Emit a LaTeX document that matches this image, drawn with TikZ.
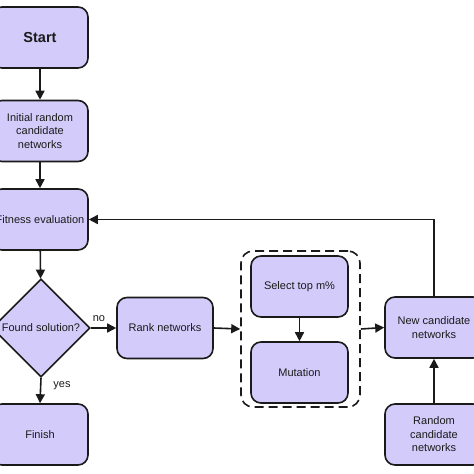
\documentclass[tikz,border=0pt]{standalone}
\usepackage{fontspec}
\setmainfont{Liberation Sans}
\usetikzlibrary{shapes.geometric,arrows.meta}
\definecolor{boxfill}{HTML}{D3CCFA}
\definecolor{ink}{HTML}{1A1A1A}
\tikzset{
  stepbox/.style={draw=ink, line width=1.6pt, fill=boxfill, rounded corners=10pt,
    minimum width=96pt, minimum height=61pt, inner sep=2pt, align=center,
    font=\fontsize{11}{13.5}\selectfont, text=ink},
  arr/.style={draw=ink, line width=1.6pt, -{Triangle[length=9pt,width=9pt]}},
  lbl/.style={font=\fontsize{11}{12}\selectfont, text=ink, inner sep=0pt}
}
\begin{document}
\begin{tikzpicture}[x=1pt,y=-1pt]
\useasboundingbox (0,0) rectangle (474,474);
\node[stepbox, font=\fontsize{14.5}{16}\selectfont\bfseries] (start) at (40,37.5) {Start};
\node[stepbox] (init) at (40,131) {Initial random\\candidate\\networks};
\node[stepbox] (fit) at (40,219.5) {Fitness evaluation};
\node[diamond, draw=ink, line width=1.6pt, fill=boxfill, minimum width=98pt, minimum height=98pt, inner sep=0pt] (dec) at (41,328) {};
\node[lbl] (dectext) at (dec.center) {Found solution?};
\node[stepbox] (fin) at (40,434.5) {Finish};
\node[stepbox] (rank) at (165,328) {Rank networks};
\node[draw=ink, line width=1.6pt, dash pattern=on 9pt off 5pt, rounded corners=12pt,
  minimum width=119pt, minimum height=156pt] (grp) at (300.5,329) {};
\node[stepbox, minimum width=97pt] (sel) at (299.5,286.5) {Select top m\%};
\node[stepbox, minimum width=97pt] (mut) at (299.5,372.5) {Mutation};
\node[stepbox, minimum width=98pt] (new) at (434,327.5) {New candidate\\networks};
\node[stepbox, minimum width=98pt] (rnd) at (434,434.5) {Random\\candidate\\networks};

\draw[arr] (start) -- (init);
\draw[arr] (init) -- (fit);
\draw[arr] (fit) -- (dec);
\draw[arr] (dec.east) -- (rank.west);
\node[lbl] (nolbl) at (99,319) {no};
\draw[arr] (dec.south) -- (fin.north);
\node[lbl] (yeslbl) at (62,386) {yes};
\draw[arr] (rank.east) -- (grp.west);
\draw[arr] (sel) -- (mut);
\draw[arr] (grp.east) -- (new.west);
\draw[arr] (rnd) -- (new);
\draw[arr] (new.north) |- (fit.east);
\end{tikzpicture}
\end{document}
